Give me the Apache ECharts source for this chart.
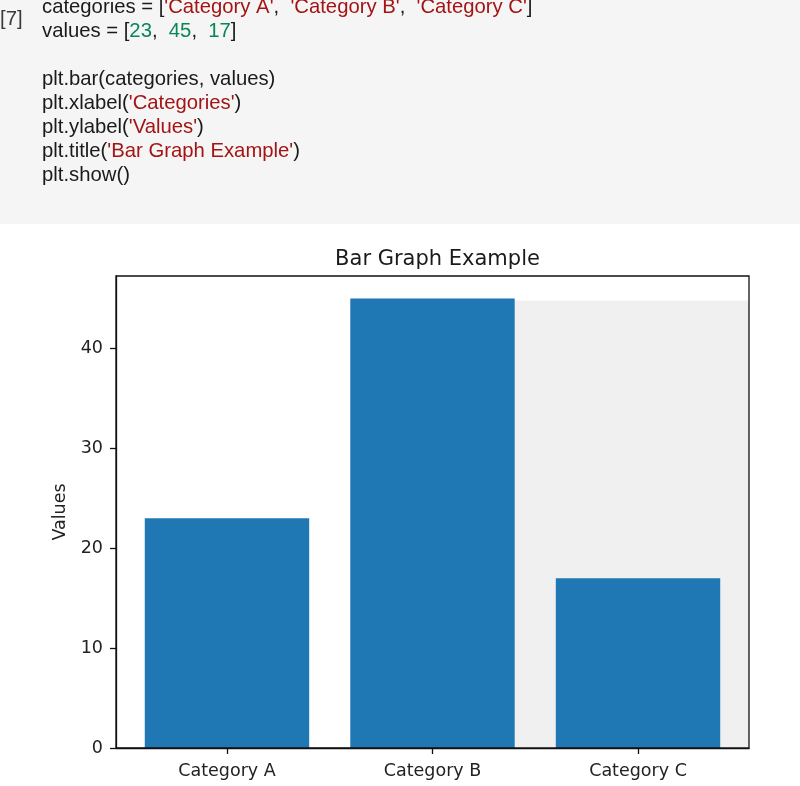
<!DOCTYPE html>
<html>
<head>
<meta charset="utf-8">
<script src="https://cdn.jsdelivr.net/npm/echarts@6/dist/echarts.min.js"></script>
<style>
html,body{margin:0;padding:0;background:#fff;}
#chart{width:800px;height:786px;}
</style>
</head>
<body>
<div id="chart"></div>
<script>
// ---- data ----
const categories = ['Category A', 'Category B', 'Category C'];
const values = [23, 45, 17];
const yTickValues = [0, 10, 20, 30, 40];
const xTickValues = [0, 1, 2];
const overlayBox = [[1.4, 2.54, 44.8]]; // grey screenshot artifact: x from, x to, top value

// ---- code cell text ----
const codeLines = [
  [['d', 'categories = ['], ['s', "'Category A'"], ['d', ',  '], ['s', "'Category B'"], ['d', ',  '], ['s', "'Category C'"], ['d', ']']],
  [['d', 'values = ['], ['n', '23'], ['d', ',  '], ['n', '45'], ['d', ',  '], ['n', '17'], ['d', ']']],
  [],
  [['d', 'plt.bar(categories, values)']],
  [['d', 'plt.xlabel('], ['s', "'Categories'"], ['d', ')']],
  [['d', 'plt.ylabel('], ['s', "'Values'"], ['d', ')']],
  [['d', 'plt.title('], ['s', "'Bar Graph Example'"], ['d', ')']],
  [['d', 'plt.show()']]
];

const codeFont = '"Liberation Sans", Arial, Helvetica, sans-serif';
const codeSize = 20.3;
const rich = {
  d: {fill: '#1a1a1a', fontFamily: codeFont, fontSize: codeSize},
  s: {fill: '#a31515', fontFamily: codeFont, fontSize: codeSize},
  n: {fill: '#098658', fontFamily: codeFont, fontSize: codeSize}
};

const graphics = [
  {type: 'rect', left: 0, top: 0, z: -10, shape: {width: 800, height: 224}, style: {fill: '#f5f5f5'}, silent: true},
  {type: 'text', x: 0, y: 19, style: {text: '[7]', fill: '#3a3a3a', font: codeSize + 'px ' + codeFont, textVerticalAlign: 'middle'}}
];
codeLines.forEach((line, i) => {
  if (!line.length) return;
  const txt = line.map(([k, t]) => '{' + k + '|' + t + '}').join('');
  graphics.push({
    type: 'text', x: 42, y: 7.5 + 24 * i,
    style: {text: txt, rich: rich, textVerticalAlign: 'middle', fill: '#1a1a1a', font: codeSize + 'px ' + codeFont}
  });
});

const BAR_HALF = 0.4;
const mplFont = '"DejaVu Sans", sans-serif';

const chart = echarts.init(document.getElementById('chart'), null, {renderer: 'canvas'});
chart.setOption({
  animation: false,
  backgroundColor: '#ffffff',
  title: {
    text: 'Bar Graph Example',
    left: 432.5, top: 244, textAlign: 'center',
    textStyle: {fontFamily: mplFont, fontSize: 21, fontWeight: 'normal', color: '#1a1a1a'}
  },
  graphic: graphics,
  grid: {
    left: 116, right: 51, top: 276, bottom: 38,
    containLabel: false, outerBoundsMode: 'none',
    show: true, borderColor: '#111', borderWidth: 1.3, backgroundColor: 'transparent', z: 5
  },
  xAxis: {
    type: 'value', min: -0.54, max: 2.54,
    name: 'Categories', nameLocation: 'middle', nameGap: 42,
    nameTextStyle: {fontFamily: mplFont, fontSize: 17.5, color: '#222'},
    splitLine: {show: false},
    axisLine: {show: true, onZero: false, lineStyle: {color: '#111', width: 1.3}},
    axisTick: {show: true, inside: false, length: 6, customValues: xTickValues, lineStyle: {color: '#111', width: 1.3}},
    axisLabel: {
      customValues: xTickValues, margin: 14,
      formatter: v => categories[Math.round(v)] || '',
      fontFamily: mplFont, fontSize: 17.5, color: '#222'
    }
  },
  yAxis: {
    type: 'value', min: 0, max: 47.25,
    name: 'Values', nameLocation: 'middle', nameGap: 40, nameRotate: 90,
    nameTextStyle: {fontFamily: mplFont, fontSize: 17.5, color: '#222'},
    splitLine: {show: false},
    axisLine: {show: true, onZero: false, lineStyle: {color: '#111', width: 1.3}},
    axisTick: {show: true, inside: false, length: 6, customValues: yTickValues, lineStyle: {color: '#111', width: 1.3}},
    axisLabel: {customValues: yTickValues, margin: 13, fontFamily: mplFont, fontSize: 17.5, color: '#222'}
  },
  series: [
    {
      type: 'custom', name: 'overlay', silent: true, z: 1,
      data: overlayBox,
      renderItem: (params, api) => {
        const p1 = api.coord([api.value(0), api.value(2)]);
        const p0 = api.coord([api.value(1), 0]);
        return {type: 'rect', shape: {x: p1[0], y: p1[1], width: p0[0] - p1[0], height: p0[1] - p1[1]}, style: {fill: '#f0f0f0'}};
      }
    },
    {
      type: 'custom', name: 'Values', z: 2,
      data: values.map((v, i) => [i, v]),
      renderItem: (params, api) => {
        const x = api.value(0), v = api.value(1);
        const p1 = api.coord([x - BAR_HALF, v]);
        const p0 = api.coord([x + BAR_HALF, 0]);
        return {type: 'rect', shape: {x: p1[0], y: p1[1], width: p0[0] - p1[0], height: p0[1] - p1[1]}, style: {fill: '#1f77b4'}};
      }
    }
  ]
});
</script>
</body>
</html>
